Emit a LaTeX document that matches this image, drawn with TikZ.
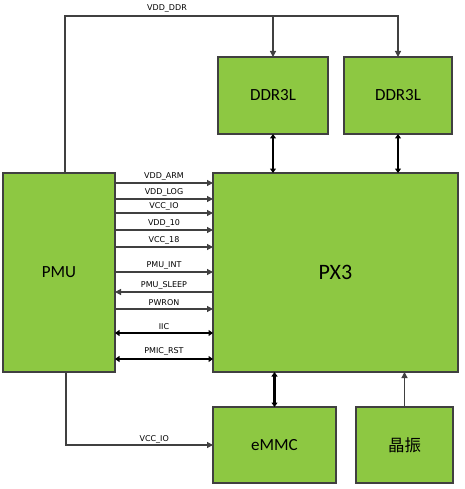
\documentclass[tikz,border=0pt]{standalone}
\usepackage{fontspec}
\setmainfont{Carlito}
\newfontfamily\labelfont{DejaVu Sans}
\newfontfamily\cjkfont{Noto Sans CJK SC}
\usetikzlibrary{arrows.meta,positioning,calc}
\definecolor{blockgreen}{RGB}{141,200,66}
\definecolor{wiregray}{RGB}{64,64,64}

\tikzset{
  block/.style={draw=wiregray, line width=1.3pt, fill=blockgreen, inner sep=0pt, outer sep=0pt, font=\fontsize{17}{19}\selectfont},
  sig/.style={font=\labelfont\fontsize{8}{9}\selectfont, inner sep=1pt},
  pwr/.style={draw=wiregray, line width=1.2pt},
  fwd/.style={pwr, -{Triangle[length=6pt,width=6pt]}},
  back/.style={pwr, {Triangle[length=6pt,width=6pt]}-},
  both/.style={draw=black, line width=2.2pt, {Triangle[length=4.5pt,width=6pt]}-{Triangle[length=4.5pt,width=6pt]}}
}

\begin{document}
\begin{tikzpicture}[x=1pt, y=-1pt]
    \useasboundingbox (0,0) rectangle (464,489);
    % Blocks
    \node[block, minimum width=112pt, minimum height=199pt] (pmu) at (59,272.5) {PMU};
    \node[block, minimum width=245pt, minimum height=199pt, font=\fontsize{22}{24}\selectfont] (px3) at (335.5,272.5) {PX3};
    \node[block, minimum width=110pt, minimum height=77pt] (ddra) at (273,95.5) {DDR3L};
    \node[block, minimum width=108pt, minimum height=77pt] (ddrb) at (398,95.5) {DDR3L};
    \node[block, minimum width=123pt, minimum height=76pt] (emmc) at (274.5,445) {eMMC};
    \node[block, minimum width=97pt, minimum height=76pt, font=\cjkfont\fontsize{16.5}{18}\selectfont] (xtal) at (404.5,445) {晶振};
    % VDD_DDR rail
    \coordinate (rail) at (0,16);
    \draw[fwd] ([xshift=6pt]pmu.north) |- (rail -| ddrb.north) -- (ddrb.north);
    \draw[fwd] (rail -| ddra.north) -- (ddra.north);
    \node[sig] (vddddr) at (167,9) {VDD\_DDR};
    % Memory buses
    \draw[both] (ddra.south) -- (px3.north -| ddra.south);
    \draw[both] (ddrb.south) -- (px3.north -| ddrb.south);
    \draw[both] (emmc.north) -- (px3.south -| emmc.north);
    \draw[fwd] (xtal.north) -- (px3.south -| xtal.north);
    % PMU to eMMC
    \draw[fwd] ([xshift=7pt]pmu.south) |- node[sig, pos=0.8, above] {VCC\_IO} (emmc.west);
    % PMU to PX3 signals
    \foreach \y/\lbl/\kind in {183/VDD\_ARM/fwd, 199/VDD\_LOG/fwd, 213/VCC\_IO/fwd,
        230/VDD\_10/fwd, 247/VCC\_18/fwd, 272/PMU\_INT/fwd, 292/PMU\_SLEEP/back,
        309/PWRON/fwd, 333/IIC/both, 359/PMIC\_RST/both}
      \draw[\kind] (pmu.east |- 0,\y) -- node[sig, above=1.5pt] {\lbl} (px3.west |- 0,\y);
\end{tikzpicture}
\end{document}
